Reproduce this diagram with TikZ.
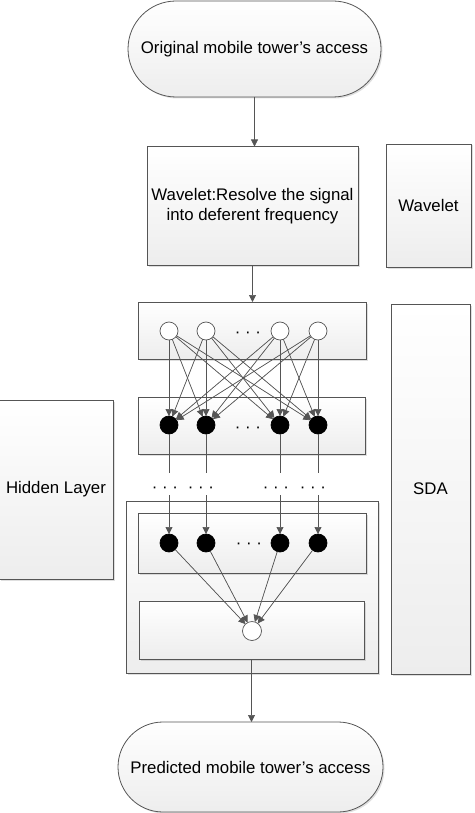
\documentclass[tikz,border=0pt]{standalone}
\usepackage{fontspec}
\setmainfont{Liberation Sans}
\usetikzlibrary{arrows.meta,shapes.misc,shadows}
\definecolor{ln}{HTML}{555555}
\newcommand{\sq}{{\char"27}}
\begin{document}
\begin{tikzpicture}[x=1pt,y=-1pt,
  font=\fontsize{16.8}{19.5}\selectfont,
  box/.style={draw=ln, line width=0.8pt, inner sep=0pt, outer sep=0pt,
    top color=white, bottom color=gray!14,
    drop shadow={shadow xshift=1.5pt,shadow yshift=-1.5pt,opacity=0.25}},
  term/.style={box, rounded rectangle},
  neuron/.style={circle, draw=ln, line width=0.7pt, fill=white, minimum size=18pt, inner sep=0pt, outer sep=0pt},
  bneuron/.style={neuron, fill=black, draw=black},
  dotsn/.style={inner sep=0pt, anchor=base},
  wire/.style={draw=ln, line width=0.7pt},
  arr/.style={wire, -{Triangle[length=7pt,width=7pt]}, fill=ln}
]
\useasboundingbox (0,0) rectangle (474,813);
% boxes
\node[term, minimum width=253pt, minimum height=96pt] (top) at (254.5,49) {Original mobile tower\sq s access};
\node[box, minimum width=211pt, minimum height=119pt, align=center] (wav) at (252.5,206) {Wavelet:Resolve the signal\\into deferent frequency};
\node[box, minimum width=85pt, minimum height=123pt] (wavlbl) at (428.5,205.5) {Wavelet};
\node[box, minimum width=228pt, minimum height=57pt] (inbox) at (252,330.5) {};
\node[box, minimum width=227pt, minimum height=57pt] (hbox) at (251.5,425.5) {};
\node[box, minimum width=114pt, minimum height=179pt] (hidden) at (56,489.5) {Hidden Layer};
\node[box, minimum width=79pt, minimum height=370pt] (sda) at (430.5,489) {SDA};
\node[box, minimum width=252pt, minimum height=172pt] (outer) at (252,587) {};
\node[box, minimum width=228pt, minimum height=60pt] (gbox) at (252,543) {};
\node[box, minimum width=225pt, minimum height=58pt] (obox) at (251.5,630) {};
\node[term, minimum width=265pt, minimum height=90pt] (bot) at (250.5,767) {Predicted mobile tower\sq s access};
% neurons
\foreach \i/\x in {1/169,2/206,3/280,4/318}{
  \node[neuron] (in\i) at (\x,331) {};
  \node[bneuron] (h\i) at (\x,425) {};
  \node[bneuron] (g\i) at (\x,543) {};
  \coordinate (hc\i) at (\x,473);
  \coordinate (gc\i) at (\x,495);
}
\node[neuron, minimum size=19pt] (out) at (252,631) {};
% dots
\node[dotsn] (d1) at (248,337.5) {· · ·};
\node[dotsn] (d2) at (248,432) {· · ·};
\node[dotsn] (d3) at (249,548.5) {· · ·};
\node[dotsn] (m1) at (165,492.5) {· · ·};
\node[dotsn] (m2) at (201,492.5) {· · ·};
\node[dotsn] (m3) at (276,492.5) {· · ·};
\node[dotsn] (m4) at (313,492.5) {· · ·};
% connectors
\draw[arr] (top.south) -- (top.south |- wav.north);
\draw[arr] (wav.south) -- (wav.south |- inbox.north);
\foreach \i in {1,...,4}{
  \foreach \j in {1,...,4}{
    \draw[arr] (in\i) -- (h\j);
  }
  \draw[wire] (h\i) -- (hc\i);
  \draw[arr] (gc\i) -- (g\i);
  \draw[arr] (g\i) -- (out);
}
\draw[arr] (obox.south) -- (obox.south |- bot.north);
\end{tikzpicture}
\end{document}
